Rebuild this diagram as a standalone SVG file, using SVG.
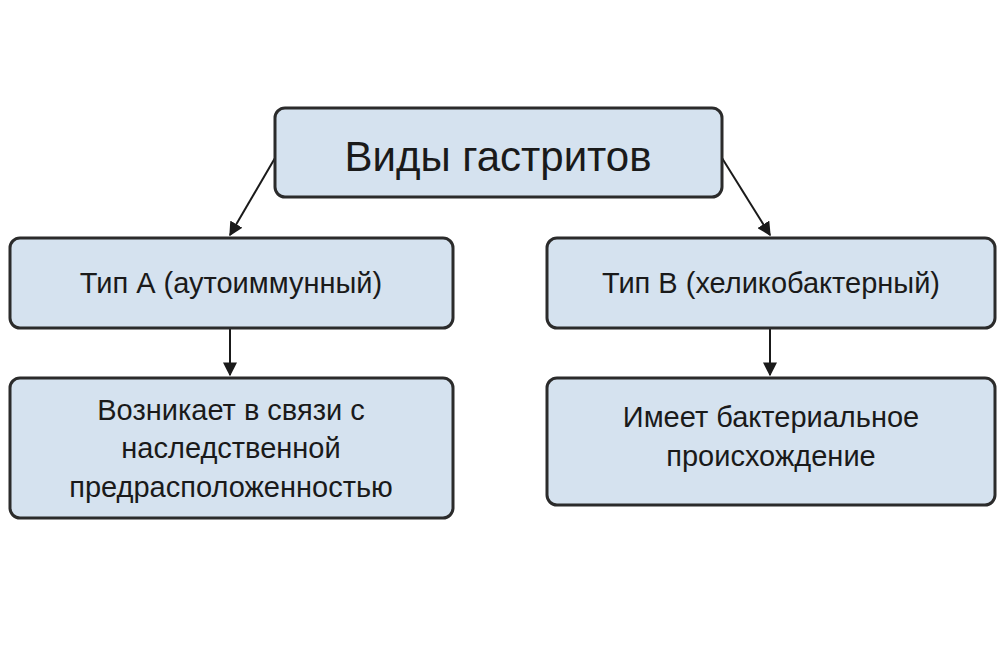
<svg xmlns="http://www.w3.org/2000/svg" width="1000" height="666" viewBox="0 0 1000 666">
<style>
.box{fill:#d5e2ef;stroke:#2b2b2b;stroke-width:3}
text{font-family:"Liberation Sans",Arial,sans-serif;fill:#1a1a1a;text-anchor:middle}
.c{stroke:#1a1a1a;stroke-width:2;fill:none;marker-end:url(#a)}
</style>
<defs><marker id="a" viewBox="0 0 10 10" refX="9" refY="5" markerWidth="7" markerHeight="7" orient="auto"><path d="M0,0L10,5L0,10z" fill="#1a1a1a"/></marker></defs>
<rect width="1000" height="666" fill="#fff"/>
<g id="connectors">
<line class="c" x1="275" y1="158" x2="230" y2="235"/>
<line class="c" x1="722" y1="158" x2="770" y2="235"/>
<line class="c" x1="230" y1="328" x2="230" y2="375"/>
<line class="c" x1="770" y1="328" x2="770" y2="375"/>
</g>
<g id="top"><rect class="box" x="275" y="108" width="447" height="89" rx="10"/><text x="498" y="171" font-size="42">Виды гастритов</text></g>
<g id="typeA"><rect class="box" x="10" y="238" width="443" height="90" rx="10"/><text x="231" y="293" font-size="29">Тип А (аутоиммунный)</text></g>
<g id="typeB"><rect class="box" x="547" y="238" width="448" height="90" rx="10"/><text x="771" y="293" font-size="29">Тип В (хеликобактерный)</text></g>
<g id="descA"><rect class="box" x="10" y="378" width="443" height="140" rx="10"/><text x="231" y="420" font-size="29">Возникает в связи с</text><text x="231" y="458" font-size="29">наследственной</text><text x="231" y="497" font-size="29">предрасположенностью</text></g>
<g id="descB"><rect class="box" x="547" y="378" width="448" height="127" rx="10"/><text x="771" y="427" font-size="29">Имеет бактериальное</text><text x="771" y="466" font-size="29">происхождение</text></g>
</svg>
